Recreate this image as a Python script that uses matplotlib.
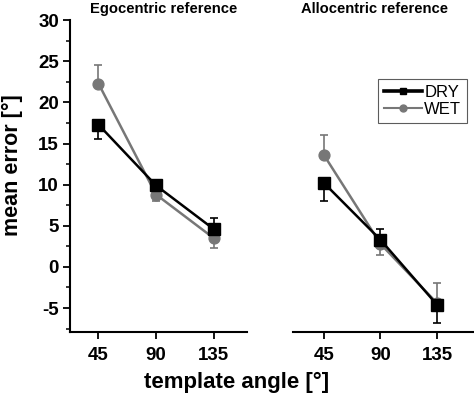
import matplotlib
matplotlib.use("Agg")
import matplotlib.pyplot as plt
from matplotlib.ticker import MultipleLocator
from matplotlib.lines import Line2D

plt.rcParams['font.family'] = ['Liberation Sans', 'DejaVu Sans']

angles = [45, 90, 135]
tick_labels = ["45", "90", "135"]

# Egocentric reference
ego_dry = [17.3, 9.9, 4.6]
ego_dry_lo = [1.8, 0.0, 0.0]
ego_dry_hi = [0.0, 0.6, 1.3]
ego_wet = [22.3, 8.8, 3.5]
ego_wet_lo = [0.0, 0.8, 1.2]
ego_wet_hi = [2.3, 0.0, 0.0]

# Allocentric reference
allo_dry = [10.2, 3.3, -4.6]
allo_dry_lo = [2.2, 0.0, 2.2]
allo_dry_hi = [0.0, 1.3, 0.0]
allo_wet = [13.6, 2.8, -4.4]
allo_wet_lo = [0.0, 1.3, 0.0]
allo_wet_hi = [2.4, 0.0, 2.4]

DRY_C = "#000000"
WET_C = "#777777"

fig = plt.figure(figsize=(4.74, 3.96), dpi=100)
ax1 = fig.add_axes([0.148, 0.162, 0.373, 0.787])
ax2 = fig.add_axes([0.618, 0.162, 0.382, 0.787])

def draw(ax, dry, dlo, dhi, wet, wlo, whi):
    ax.errorbar(angles, wet, yerr=[wlo, whi], color=WET_C, marker='o', ms=7.8,
                lw=1.8, elinewidth=1.2, capsize=3, capthick=1.2, zorder=2)
    ax.errorbar(angles, dry, yerr=[dlo, dhi], color=DRY_C, marker='s', ms=8.8,
                lw=1.8, elinewidth=1.2, capsize=3, capthick=1.2, zorder=3)

draw(ax1, ego_dry, ego_dry_lo, ego_dry_hi, ego_wet, ego_wet_lo, ego_wet_hi)
draw(ax2, allo_dry, allo_dry_lo, allo_dry_hi, allo_wet, allo_wet_lo, allo_wet_hi)

for ax in (ax1, ax2):
    ax.set_ylim(-7.9, 30)
    ax.set_xticks(angles)
    ax.set_xticklabels(tick_labels, fontsize=13.5, fontweight='bold')
    for s in ('top', 'right'):
        ax.spines[s].set_visible(False)
    ax.spines['bottom'].set_linewidth(1.5)
    ax.tick_params(axis='x', direction='out', length=5, width=1.3, pad=6)

ax1.set_xlim(22.9, 161)
ax2.set_xlim(20.3, 164.5)

ax1.yaxis.set_major_locator(MultipleLocator(5))
ax1.yaxis.set_minor_locator(MultipleLocator(2.5))
ax1.set_yticks([-5, 0, 5, 10, 15, 20, 25, 30])
ax1.set_yticklabels(["-5", "0", "5", "10", "15", "20", "25", "30"], fontsize=13.5, fontweight='bold')
ax1.tick_params(axis='y', which='major', direction='out', length=5, width=1.3, pad=3)
ax1.tick_params(axis='y', which='minor', direction='out', length=3, width=1.1)
ax1.spines['left'].set_linewidth(1.5)

ax2.spines['left'].set_visible(False)
ax2.set_yticks([])

ax1.set_ylabel("mean error [°]", fontsize=15.5, fontweight='bold')
ax1.yaxis.set_label_coords(-0.265, 0.535)
fig.text(0.5, 0.033, "template angle [°]", ha='center', va='center', fontsize=16, fontweight='bold')

fig.text(0.345, 0.978, "Egocentric reference", ha='center', va='center', fontsize=10.6, fontweight='bold')
fig.text(0.79, 0.978, "Allocentric reference", ha='center', va='center', fontsize=10.6, fontweight='bold')

handles = [
    Line2D([], [], color=DRY_C, lw=2.6, marker='s', ms=4.5),
    Line2D([], [], color=WET_C, lw=1.5, marker='o', ms=5),
]
leg = ax2.legend(handles, ["DRY", "WET"], loc='upper left', bbox_to_anchor=(0.468, 0.811),
                 fontsize=12, frameon=True, fancybox=False, edgecolor='#333333',
                 handlelength=2.3, handletextpad=0.15, borderpad=0.35, labelspacing=0.12,
                 borderaxespad=0)
leg.get_frame().set_linewidth(0.8)

fig.savefig("out.png", dpi=100)
